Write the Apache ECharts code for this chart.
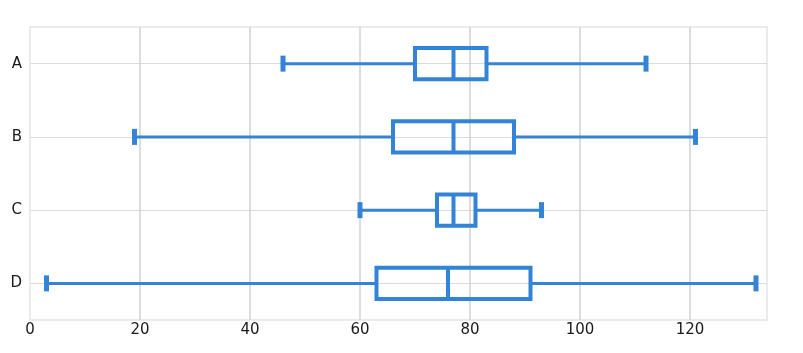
<!DOCTYPE html>
<html>
<head>
<meta charset="utf-8">
<script src="https://cdn.jsdelivr.net/npm/echarts@6/dist/echarts.min.js"></script>
<style>
html,body{margin:0;padding:0;background:#fff;}
#chart{width:803px;height:353px;}
</style>
</head>
<body>
<div id="chart"></div>
<script>
var categories = ['A', 'B', 'C', 'D'];
var whiskerLow  = [46, 19, 60, 3];
var quartile1   = [70, 66, 74, 63];
var medians     = [77, 77, 77, 76];
var quartile3   = [83, 88, 81, 91];
var whiskerHigh = [112, 121, 93, 132];
var xTicks = [0, 20, 40, 60, 80, 100, 120];

var color = '#3383d6';
var data = categories.map(function (c, i) {
  return [i, whiskerLow[i], quartile1[i], medians[i], quartile3[i], whiskerHigh[i]];
});
var helperCats = [];
for (var k = 0; k < categories.length * 2 + 1; k++) helperCats.push('h' + k);

var chart = echarts.init(document.getElementById('chart'));
chart.setOption({
  animation: false,
  grid: {left: 30, right: 36, top: 27, bottom: 33, show: true, borderColor: '#ebebeb', borderWidth: 2, backgroundColor: 'transparent'},
  xAxis: {
    type: 'value', min: 0, max: 134, interval: 20,
    axisLine: {show: false}, axisTick: {show: false},
    splitLine: {show: true, showMinLine: false, showMaxLine: false, lineStyle: {color: '#d2d2d2', width: 1.5}},
    axisLabel: {color: '#1a1a1a', fontFamily: 'DejaVu Sans', fontSize: 15, margin: 3,
      formatter: function (v) { return xTicks.indexOf(v) >= 0 ? String(v) : ''; }}
  },
  yAxis: [{
    type: 'category', data: categories, inverse: true,
    axisLine: {show: false}, axisTick: {show: false},
    splitLine: {show: false},
    axisLabel: {color: '#1a1a1a', fontFamily: 'DejaVu Sans', fontSize: 15, margin: 8}
  }, {
    type: 'category', data: helperCats, inverse: true, boundaryGap: false, position: 'left',
    axisLine: {show: false}, axisTick: {show: false}, axisLabel: {show: false},
    splitLine: {show: true, interval: function (i) { return i % 2 === 1; }, lineStyle: {color: '#dcdcdc', width: 1}}
  }],
  series: [{
    type: 'custom',
    yAxisIndex: 0,
    encode: {x: [1, 2, 3, 4, 5], y: 0},
    data: data,
    renderItem: function (params, api) {
      var ci = api.value(0);
      var pMin = api.coord([api.value(1), ci]);
      var pQ1 = api.coord([api.value(2), ci]);
      var pMed = api.coord([api.value(3), ci]);
      var pQ3 = api.coord([api.value(4), ci]);
      var pMax = api.coord([api.value(5), ci]);
      var band = api.size([0, 1])[1];
      var hh = band * 0.215;
      var y = pMin[1];
      var capH = 16, capW = 5;
      return {
        type: 'group',
        children: [
          {type: 'line', shape: {x1: pMin[0], y1: y, x2: pQ1[0], y2: y}, style: {stroke: color, lineWidth: 3}},
          {type: 'line', shape: {x1: pQ3[0], y1: y, x2: pMax[0], y2: y}, style: {stroke: color, lineWidth: 3}},
          {type: 'rect', shape: {x: pQ1[0], y: y - hh, width: pQ3[0] - pQ1[0], height: 2 * hh}, style: {fill: 'none', stroke: color, lineWidth: 4}},
          {type: 'line', shape: {x1: pMed[0], y1: y - hh, x2: pMed[0], y2: y + hh}, style: {stroke: color, lineWidth: 4}},
          {type: 'rect', shape: {x: pMin[0] - capW / 2, y: y - capH / 2, width: capW, height: capH}, style: {fill: color}},
          {type: 'rect', shape: {x: pMax[0] - capW / 2, y: y - capH / 2, width: capW, height: capH}, style: {fill: color}}
        ]
      };
    }
  }]
});
</script>
</body>
</html>
